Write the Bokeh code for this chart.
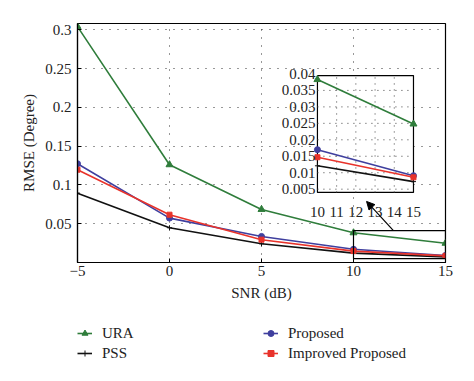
from bokeh.plotting import figure
from bokeh.layouts import column
from bokeh.models import (Range1d, FixedTicker, Legend, LegendItem,
                          Arrow, NormalHead)
from bokeh.core.properties import value
from bokeh.embed import file_html
from bokeh.resources import INLINE

# ---------------- data ----------------
snr = [-5, 0, 5, 10, 15]
ura = [0.304, 0.126, 0.0684, 0.0383, 0.0248]
pss = [0.0894, 0.0448, 0.0242, 0.0121, 0.0073]
proposed = [0.1273, 0.0572, 0.0336, 0.0170, 0.0091]
improved = [0.1196, 0.0616, 0.0294, 0.0147, 0.0086]

x_ticks = [-5, 0, 5, 10, 15]
x_tick_labels = ["\u22125", "0", "5", "10", "15"]
y_ticks = [0.05, 0.1, 0.15, 0.2, 0.25, 0.3]
y_tick_labels = ["0.05", "0.1", "0.15", "0.2", "0.25", "0.3"]

inset_x_ticks = [10, 11, 12, 13, 14, 15]
inset_x_labels = ["10", "11", "12", "13", "14", "15"]
inset_y_ticks = [0.005, 0.01, 0.015, 0.02, 0.025, 0.03, 0.035, 0.04]
inset_y_labels = ["0.005", "0.01", "0.015", "0.02", "0.025", "0.03", "0.035", "0.04"]

# ---------------- styles / layout ----------------
FONT = "Liberation Serif"
FS = "15px"
GREEN = "#2f7d3b"
BLUE = "#3f3f9e"
RED = "#e8332b"
BLACK = "#111111"
TXT = "#222222"

X_MIN, X_MAX = -5, 15
Y_MIN, Y_MAX = 0, 0.308
IX_LO, IX_HI = 10, 15            # inset x range
IY_LO, IY_HI = 0.004, 0.0395     # inset y range
ZOOM_Y_LO, ZOOM_Y_HI = 0.005, 0.041  # zoom box in main plot
# inset box position as fractions of the frame
FX0, FX1 = 0.652, 0.913
FY0, FY1 = 0.293, 0.782

p = figure(width=458, height=310, output_backend="svg", toolbar_location=None,
           x_range=Range1d(X_MIN, X_MAX), y_range=Range1d(Y_MIN, Y_MAX),
           min_border_left=77, min_border_right=13, min_border_top=23,
           min_border_bottom=48)
p.outline_line_color = "black"
p.outline_line_width = 1.2
p.background_fill_color = "white"
p.border_fill_color = "white"

# inset ranges mapped over the whole frame
span_x = (IX_HI - IX_LO) / (FX1 - FX0)
sx0 = IX_LO - FX0 * span_x
span_y = (IY_HI - IY_LO) / (FY1 - FY0)
sy0 = IY_LO - FY0 * span_y
p.extra_x_ranges = {"ix": Range1d(sx0, sx0 + span_x)}
p.extra_y_ranges = {"iy": Range1d(sy0, sy0 + span_y)}

# axes
for ax in (p.xaxis[0], p.yaxis[0]):
    ax.axis_line_color = "black"
    ax.axis_line_width = 1.2
    ax.major_tick_in = 4
    ax.major_tick_out = 0
    ax.minor_tick_line_color = None
    ax.major_label_text_font = FONT
    ax.major_label_text_font_size = FS
    ax.major_label_text_color = TXT
    ax.axis_label_text_font = FONT
    ax.axis_label_text_font_size = FS
    ax.axis_label_text_font_style = "normal"
    ax.axis_label_text_color = TXT

p.xaxis.ticker = FixedTicker(ticks=x_ticks)
p.xaxis.major_label_overrides = dict(zip(x_ticks, x_tick_labels))
p.xaxis.axis_label = "SNR (dB)"
p.xaxis.major_label_standoff = 3
p.xaxis.axis_label_standoff = 6

p.yaxis.ticker = FixedTicker(ticks=y_ticks)
p.yaxis.major_label_overrides = dict(zip(y_ticks, y_tick_labels))
p.yaxis.axis_label = "RMSE (Degree)"
p.yaxis.major_label_standoff = 6
p.yaxis.axis_label_standoff = 5

# grids
p.xgrid.ticker = FixedTicker(ticks=x_ticks)
p.ygrid.ticker = FixedTicker(ticks=y_ticks)
for g in (p.xgrid[0], p.ygrid[0]):
    g.grid_line_color = "#333333"
    g.grid_line_dash = "1 7"
    g.grid_line_width = 1.1

# ---------------- main series ----------------
series = [
    ("URA", ura, GREEN, "triangle", 7),
    ("PSS", pss, BLACK, "cross", 5),
    ("Proposed", proposed, BLUE, "circle", 6),
    ("Improved Proposed", improved, RED, "square", 5),
]
for name, ys, col, mk, sz in series:
    p.line(snr, ys, line_color=col, line_width=1.6)
    p.scatter(snr, ys, marker=mk, size=sz, fill_color=col, line_color=col)

# zoom rectangle in main plot
p.quad(left=[snr[3]], right=[snr[4]], bottom=[ZOOM_Y_LO], top=[ZOOM_Y_HI],
       fill_alpha=0, line_color="black", line_width=1.2)

# ---------------- inset ----------------
p.quad(left=[IX_LO], right=[IX_HI], bottom=[IY_LO], top=[IY_HI],
       fill_color="white", line_color="black", line_width=1.2,
       x_range_name="ix", y_range_name="iy")
gx = [t for t in inset_x_ticks if IX_LO < t < IX_HI]
gy = [t for t in inset_y_ticks if IY_LO < t < IY_HI]
p.segment(x0=gx, y0=[IY_LO] * len(gx), x1=gx, y1=[IY_HI] * len(gx),
          line_color="#444444", line_dash="1 5", line_width=1,
          x_range_name="ix", y_range_name="iy")
p.segment(x0=[IX_LO] * len(gy), y0=gy, x1=[IX_HI] * len(gy), y1=gy,
          line_color="#444444", line_dash="1 5", line_width=1,
          x_range_name="ix", y_range_name="iy")
for name, ys, col, mk, sz in series:
    p.line(snr[3:], ys[3:], line_color=col, line_width=1.6,
           x_range_name="ix", y_range_name="iy")
    p.scatter(snr[3:], ys[3:], marker=mk, size=sz, fill_color=col, line_color=col,
              x_range_name="ix", y_range_name="iy")
p.text(x=[IX_LO] * len(inset_y_ticks), y=inset_y_ticks, text=inset_y_labels,
       x_offset=-2, text_align="right", text_baseline="middle",
       text_font=value(FONT), text_font_size=FS, text_color=TXT,
       x_range_name="ix", y_range_name="iy")
p.text(x=inset_x_ticks, y=[IY_LO] * len(inset_x_ticks), text=inset_x_labels,
       y_offset=20, text_align="center", text_baseline="middle",
       text_font=value(FONT), text_font_size=FS, text_color=TXT,
       x_range_name="ix", y_range_name="iy")

# arrow from zoom box to inset
p.add_layout(Arrow(end=NormalHead(size=8, fill_color="black", line_color="black"),
                   x_start=12.17, y_start=ZOOM_Y_HI, x_end=10.71, y_end=0.0787,
                   line_color="black", line_width=1.2))

# ---------------- legend (separate strip below the plot) ----------------
# the strip's view range lies outside the data, so only the legend shows
q = figure(width=458, height=55, output_backend="svg", toolbar_location=None,
           x_range=Range1d(100, 101), y_range=Range1d(100, 101),
           x_axis_type=None, y_axis_type=None, min_border=0)
q.outline_line_color = None
q.grid.visible = False
q.background_fill_color = "white"
q.border_fill_color = "white"
items = []
for name, ys, col, mk, sz in series:
    l = q.line(snr, ys, line_color=col, line_width=1.6)
    s = q.scatter(snr, ys, marker=mk, size=sz - 1, fill_color=col, line_color=col)
    items.append(LegendItem(label=name, renderers=[l, s]))

legend = Legend(items=items, location=(0, 2), ncols=2,
                label_text_font=FONT, label_text_font_size=FS,
                label_text_color=TXT,
                glyph_width=15, glyph_height=20, label_height=20,
                label_standoff=10, label_width=161, spacing=0, padding=0, margin=0,
                border_line_alpha=0, background_fill_alpha=0)
q.add_layout(legend, "center")

layout = column(p, q, spacing=0)
open("out.html", "w").write(file_html(layout, INLINE))
